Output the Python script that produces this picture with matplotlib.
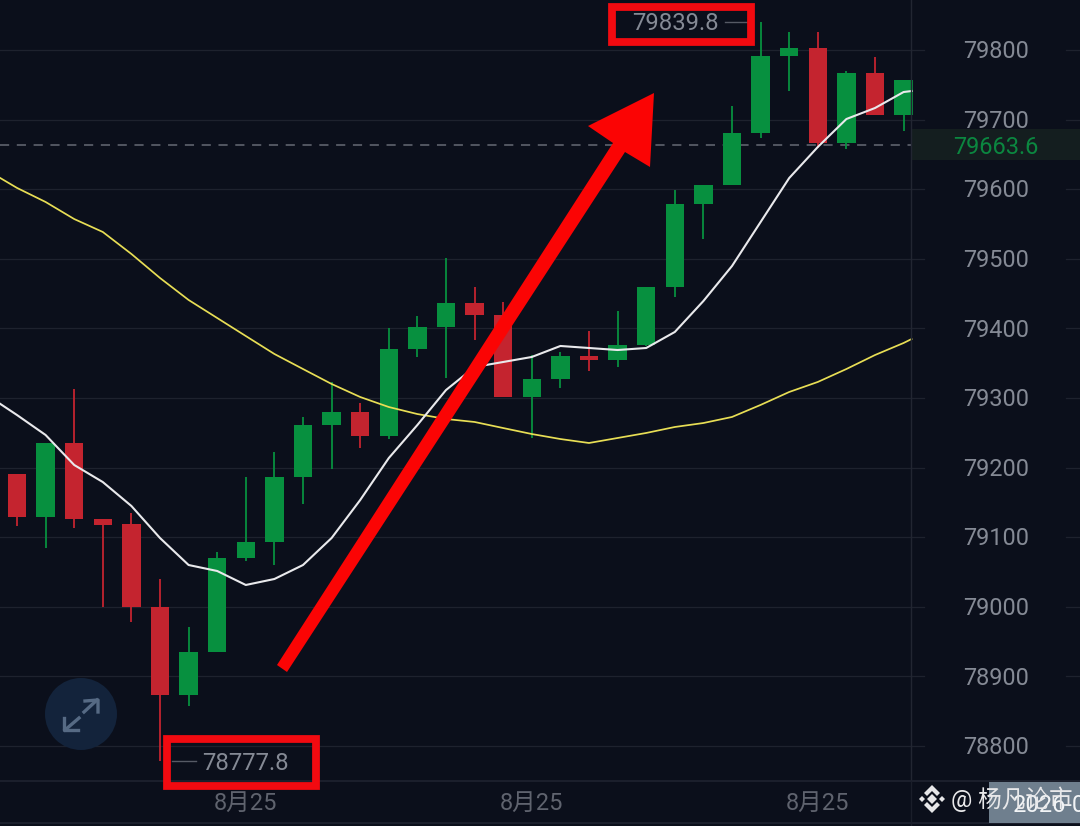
import matplotlib
matplotlib.use("Agg")
import matplotlib.pyplot as plt
from matplotlib.patches import Polygon, Rectangle, Circle

plt.rcParams['font.family'] = ['Roboto', 'Noto Sans CJK SC', 'DejaVu Sans']

opens = [79129.0,79129.0,79235.3,79126.1,79118.9,78999.7,78873.2,78935.0,79070.0,79093.0,79186.4,79261.2,79279.8,
         79245.4,79370.4,79402.0,79436.4,79419.2,79301.4,79327.2,79360.3,79354.6,79376.1,79459.5,79578.7,79606.0,
         79680.7,79791.3,79802.8,79666.3,79766.9,79706.6]
closes = [79190.8,79235.3,79126.1,79117.5,78999.7,78873.2,78935.0,79070.0,79093.0,79186.4,79261.2,79279.8,79245.4,
          79370.4,79402.0,79436.4,79419.2,79301.4,79327.2,79360.3,79354.6,79376.1,79459.5,79578.7,79606.0,79680.7,
          79791.3,79802.8,79666.3,79766.9,79706.6,79756.8]
highs = [79190.8,79235.3,79313.0,79126.1,79134.7,79039.9,78970.9,79078.7,79186.4,79222.4,79272.7,79322.9,79292.8,
         79400.5,79417.8,79501.1,79459.5,79437.9,79361.7,79366.0,79396.2,79425.0,79459.5,79598.8,79606.0,79719.5,
         79839.8,79825.8,79825.8,79769.8,79789.9,79756.8]
lows = [79116.0,79084.4,79113.2,78999.7,78978.1,78777.8,78857.4,78935.0,79065.8,79060.0,79147.6,79197.9,79228.1,
        79241.0,79358.9,79328.7,79383.3,79301.4,79242.5,79314.3,79338.7,79344.5,79374.7,79445.1,79528.4,79606.0,
        79673.5,79741.1,79659.1,79657.7,79706.6,79683.6]
is_up = [False,True,False,False,False,False,True,True,True,True,True,True,False,True,True,True,False,False,True,True,
         False,True,True,True,True,True,True,True,False,True,False,True]

ma_x = [-1,0,1,2,3,4,5,6,7,8,9,10,11,12,13,14,15,16,17,18,19,20,21,22,23,24,25,26,27,28,29,30,31,31.28]
ma_fast = [79302.8,79275.5,79246.8,79203.7,79179.2,79144.8,79098.8,79060.0,79051.4,79031.3,79039.9,79060.0,79098.8,
           79153.4,79213.7,79261.2,79311.4,79344.5,79351.7,79358.9,79374.7,79371.8,79368.9,79371.8,79394.8,79439.3,
           79489.6,79552.8,79616.0,79660.6,79700.8,79716.6,79739.6,79741.0]
ma_slow = [79626.1,79601.8,79581.6,79557.1,79538.5,79506.9,79472.4,79440.8,79414.9,79389.0,79363.2,79341.6,79320.1,
           79301.4,79287.0,79276.9,79269.8,79265.5,79256.8,79248.2,79241.0,79235.3,79242.5,79249.7,79258.3,79264.0,
           79272.7,79290.0,79308.6,79323.0,79341.6,79361.7,79379.0,79384.7]

price_ticks = [78800,78900,79000,79100,79200,79300,79400,79500,79600,79700,79800]
date_labels = ["8月25","8月25","8月25"]
date_index = [8,18,28]
last_price = 79663.6
high_label = "79839.8"
low_label = "78777.8"

BG = '#0b0f1b'; GRID = '#1e222e'; GREEN = '#07903f'; RED = '#c4242f'
TXT = '#858a95'; DATE = '#5f636e'

W, H = 1080, 826
fig = plt.figure(figsize=(W/100, H/100), dpi=100, facecolor=BG)
ax = fig.add_axes([0, 0, 1, 1], facecolor=BG)
x0, dx = 17.0, 28.6
ax.set_xlim((0-x0)/dx, (W-x0)/dx)
ax.set_ylim(79871.8-1.4368*H, 79871.8)
ax.axis('off')
px = lambda p: (p-x0)/dx

for t in price_ticks:
    ax.plot([px(0), px(924)], [t, t], color=GRID, lw=0.9, zorder=1)
    ax.plot([px(1066), px(1080)], [t, t], color=GRID, lw=0.9, zorder=1)

ax.plot([px(0), px(911)], [last_price, last_price], color='#666a74', lw=1.1, dashes=(6, 5), zorder=2)

for i, (o, c, h, l, up) in enumerate(zip(opens, closes, highs, lows, is_up)):
    col = GREEN if up else RED
    ax.plot([i, i], [l, h], color=col, lw=1.3, zorder=3, solid_capstyle='butt')
    ax.bar(i, abs(c-o), bottom=min(o, c), width=0.64, color=col, lw=0, zorder=3)

ax.plot(ma_x, ma_slow, color='#e8de55', lw=1.25, zorder=4)
ax.plot(ma_x, ma_fast, color='#e9e9ec', lw=1.5, zorder=4)

for t in price_ticks:
    ax.annotate(str(t), (px(996.5), t), xytext=(0, -1.3), textcoords='offset points', color=TXT,
                fontsize=16.9, ha='center', va='center', zorder=6)
for i, s in zip(date_index, date_labels):
    ax.text(i, 79871.8-1.4368*803.5, s, color=DATE, fontsize=17, ha='center', va='center', zorder=6)

# overlay in pixel coordinates for the hand-drawn annotations and screen furniture
ov = fig.add_axes([0, 0, 1, 1], facecolor='none')
ov.set_xlim(0, W); ov.set_ylim(H, 0); ov.axis('off')

ov.plot([911, 911], [0, 781], color='#222632', lw=1.0, zorder=2)
ov.plot([0, W], [781, 781], color='#1f2330', lw=1.2, zorder=2)
ov.plot([0, W], [823, 823], color='#1f2330', lw=1.2, zorder=2)
ov.plot([911, 911], [781, 826], color='#1a1e2a', lw=1.0, zorder=2)

ov.add_patch(Rectangle((912, 129), 168, 31, color='#141e1f', lw=0, zorder=1))
ov.text(996, 147, f"{last_price}", color='#0b8740', fontsize=16.9, ha='center', va='center', zorder=6)

# expand button
ov.add_patch(Circle((81, 714), 36, color='#13233b', lw=0, zorder=5))
ac = '#566a84'
ov.plot([84, 97], [712, 700], color=ac, lw=2.4, zorder=6)
ov.plot([85, 98, 98], [701, 700, 712], color=ac, lw=2.4, zorder=6)
ov.plot([65, 79], [730, 718], color=ac, lw=2.4, zorder=6)
ov.plot([64, 64, 78], [718, 730, 730], color=ac, lw=2.4, zorder=6)

# red arrow and boxes
ov.add_patch(Polygon([(277, 665), (613, 143), (588, 126), (654, 93), (650, 167), (625, 152), (287, 672)],
                     closed=True, color='#fb0404', lw=0, zorder=7))
for (a, b, c, d) in [(612, 6.5, 139, 35.5), (167, 739, 148.5, 47)]:
    ov.add_patch(Rectangle((a, b), c, d, fill=False, ec='#f20a10', lw=5.6, joinstyle='miter', zorder=7))

ov.text(675.5, 24, high_label, color=TXT, fontsize=17.2, ha='center', va='center', zorder=6)
ov.plot([725, 747], [22, 22], color='#565a65', lw=1.0, zorder=6)
ov.text(245, 763, low_label, color=TXT, fontsize=17.2, ha='center', va='center', zorder=6)
ov.plot([172, 196], [761, 761], color='#565a65', lw=1.0, zorder=6)

# watermark
ov.add_patch(Rectangle((989, 782), 91, 41, color='#6f7f8e', lw=0, zorder=5))
ov.text(1013, 805, "2026-0", color='#f2f4f6', fontsize=17, ha='left', va='center', clip_on=True, zorder=6)
lc = '#e6e6e8'
ov.add_patch(Polygon([(932, 794), (937, 799), (932, 804), (927, 799)], color=lc, lw=0, zorder=8))
ov.add_patch(Polygon([(919, 799), (922, 796), (925, 799), (922, 802)], color=lc, lw=0, zorder=8))
ov.add_patch(Polygon([(939, 799), (942, 796), (945, 799), (942, 802)], color=lc, lw=0, zorder=8))
ov.add_patch(Polygon([(932, 785), (940, 793), (937, 796), (932, 791), (927, 796), (924, 793)], color=lc, lw=0, zorder=8))
ov.add_patch(Polygon([(932, 813), (940, 805), (937, 802), (932, 807), (927, 802), (924, 805)], color=lc, lw=0, zorder=8))
ov.text(951, 799, "@ 杨凡论市", color='#e8e8ea', fontsize=17, ha='left', va='center', zorder=8)

fig.savefig("out.png", dpi=100, facecolor=BG)
